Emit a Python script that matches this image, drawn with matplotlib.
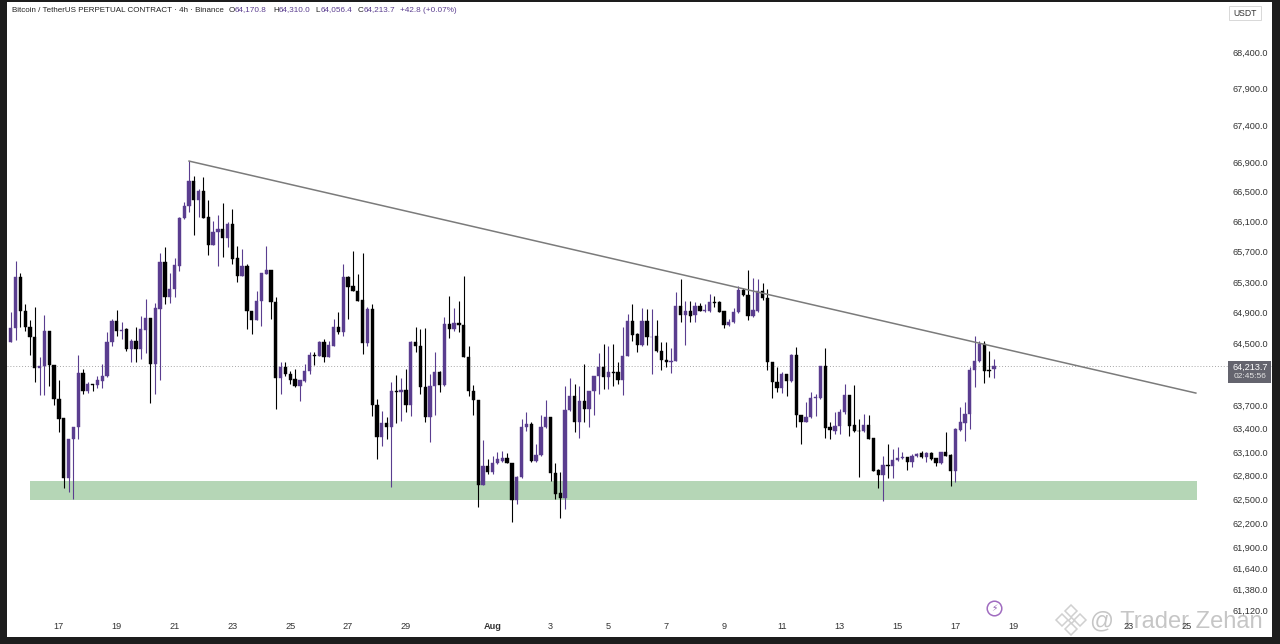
import numpy as np
import matplotlib
matplotlib.use("Agg")
import matplotlib.pyplot as plt
from matplotlib.patches import Rectangle

# 4h candles, one value per bar
opens = [64531, 64709, 65383, 64936, 64718, 64587, 64190, 64211, 64674, 64233,
         63789, 63541, 62785, 63273, 63426, 64125, 63897, 63983, 63974, 64026,
         64082, 64523, 64805, 64674, 64696, 64435, 64544, 64435, 64687, 64836,
         64241, 64957, 65572, 65110, 65220, 65528, 66161, 66316, 66652, 66405,
         66517, 66170, 65801, 65979, 66014, 65890, 66081, 65625, 65396, 65528,
         64936, 64818, 65066, 65418, 65471, 65044, 64056, 64198, 64112, 64047,
         63961, 64026, 64146, 64362, 64340, 64522, 64336, 64479, 64727, 64661,
         65383, 65255, 65198, 65075, 64513, 64957, 63716, 63298, 63478, 63427,
         63897, 63875, 63905, 63716, 64531, 64470, 63940, 63563, 63953, 64133,
         63974, 64762, 64692, 64775, 64749, 64336, 63897, 63776, 62692, 62938,
         62853, 62971, 63001, 63039, 62971, 62502, 62790, 63426, 63469, 63001,
         63073, 63426, 63554, 62840, 62587, 62528, 63652, 63832, 63490, 63768,
         63661, 63888, 64082, 64198, 64069, 64142, 64142, 64039, 64349, 64805,
         64631, 64487, 64796, 64587, 64600, 64405, 64297, 64263, 64280, 64992,
         64883, 64927, 64879, 65001, 64936, 64927, 65044, 65044, 64927, 64753,
         64783, 64914, 65211, 65145, 64862, 64936, 65189, 65097, 64263, 64013,
         63927, 64112, 64026, 64358, 63584, 63499, 63563, 63802, 63797, 64211,
         63426, 63384, 63447, 63618, 63841, 63460, 63384, 63384, 63460, 63285,
         62883, 62823, 62950, 62929, 63005, 63031, 63043, 62980, 63064, 63098,
         63043, 63094, 63031, 62971, 63115, 63073, 62866, 63396, 63481, 63597,
         64164, 64276, 64496, 64164, 64170.8]
highs = [64914, 65585, 65431, 65023, 64818, 64979, 64327, 64879, 64674, 64233,
         64039, 63541, 63273, 63434, 64357, 64177, 64004, 63983, 64090, 64241,
         64662, 64827, 64949, 64783, 64705, 64566, 64727, 64870, 65088, 64836,
         65036, 65695, 65779, 65431, 65625, 66170, 66378, 66930, 66728, 66549,
         66715, 66401, 66125, 66201, 66356, 66112, 66281, 65792, 65748, 65550,
         64936, 65198, 65427, 65784, 65471, 65110, 64271, 64263, 64155, 64177,
         64030, 64241, 64401, 64401, 64544, 64566, 64544, 64827, 64914, 65550,
         65396, 65726, 65418, 65695, 64979, 65023, 63789, 63640, 63555, 64004,
         64099, 64056, 64177, 64544, 64722, 64692, 64714, 64112, 64401, 64155,
         64849, 65132, 64966, 65066, 65391, 64470, 63974, 63776, 63268, 63022,
         63064, 63115, 63128, 63098, 62971, 62811, 63533, 63618, 63490, 63213,
         63584, 63780, 63554, 62971, 62853, 63961, 64056, 63983, 63961, 64241,
         63897, 64090, 64383, 64502, 64472, 64502, 64263, 64718, 64892, 65023,
         64644, 64966, 64957, 64957, 64814, 64522, 64522, 64444, 65185, 65352,
         65066, 65066, 65044, 65031, 65023, 65154, 65123, 65066, 64927, 64827,
         64966, 65255, 65229, 65475, 65361, 65352, 65299, 65220, 64263, 64198,
         64142, 64112, 64370, 64457, 63584, 63746, 63884, 63853, 64220, 64444,
         63490, 63627, 63661, 63983, 63841, 63970, 63533, 63597, 63588, 63285,
         62895, 63056, 63209, 63149, 63170, 63115, 63052, 63086, 63098, 63128,
         63115, 63115, 63031, 63115, 63370, 63086, 63418, 63691, 63755, 64198,
         64600, 64540, 64540, 64414, 64310]
lows = [64523, 64557, 64718, 64674, 64357, 64004, 63841, 63841, 63961, 63712,
        63362, 62650, 62608, 62515, 63277, 63854, 63867, 63897, 63927, 63927,
        64069, 64479, 64609, 64566, 64413, 64263, 64263, 64306, 64383, 63738,
        63854, 64039, 65023, 65036, 65110, 65462, 66148, 66245, 65934, 66170,
        66161, 65669, 65801, 65519, 65638, 65770, 65550, 65317, 65396, 64696,
        64631, 64818, 64731, 65418, 64827, 63661, 63854, 64090, 63983, 63940,
        63768, 64013, 64112, 64228, 64340, 64263, 64327, 64479, 64631, 64609,
        64827, 65189, 65066, 64370, 64479, 63576, 63022, 63183, 63277, 62663,
        63482, 63512, 63618, 63576, 64392, 63854, 63491, 63234, 63584, 63884,
        63961, 64579, 64675, 64653, 64336, 63832, 63588, 62410, 62692, 62832,
        62832, 62959, 62980, 62971, 62222, 62452, 62777, 63384, 62980, 62988,
        63064, 63413, 62747, 62515, 62272, 62389, 63640, 63362, 63290, 63490,
        63426, 63588, 63853, 63918, 63918, 63961, 63983, 63841, 64340, 64544,
        64392, 64479, 64487, 64112, 64392, 64164, 64198, 64125, 64280, 64783,
        64487, 64783, 64792, 64936, 64923, 64923, 64988, 64914, 64705, 64740,
        64775, 64905, 65132, 64818, 64849, 64923, 65079, 64168, 63797, 63875,
        63867, 63824, 64013, 63426, 63213, 63490, 63541, 63571, 63789, 63290,
        63277, 63341, 63341, 63597, 63319, 63370, 62790, 63370, 63277, 62866,
        62650, 62486, 62777, 62777, 62993, 63022, 62887, 62917, 63052, 63031,
        62980, 63014, 62929, 62959, 63056, 62675, 62726, 63384, 63255, 63405,
        63939, 64263, 63996, 64074, 64056.4]
closes = [64709, 65383, 64936, 64718, 64587, 64190, 64220, 64674, 64233, 63789,
          63533, 62785, 63273, 63434, 64125, 63897, 63983, 63974, 64034, 64082,
          64531, 64805, 64674, 64683, 64435, 64544, 64435, 64696, 64836, 64241,
          64970, 65572, 65110, 65220, 65537, 66161, 66325, 66652, 66405, 66517,
          66161, 65801, 65979, 66014, 65890, 66081, 65616, 65396, 65519, 64927,
          64818, 65066, 65427, 65471, 65044, 64056, 64198, 64112, 64039, 63953,
          64030, 64146, 64362, 64340, 64522, 64336, 64488, 64727, 64661, 65383,
          65251, 65189, 65066, 64513, 64957, 63716, 63298, 63478, 63427, 63897,
          63875, 63905, 63716, 64531, 64470, 63940, 63563, 63961, 64133, 63974,
          64762, 64692, 64775, 64749, 64336, 63897, 63776, 62692, 62938, 62853,
          62971, 63022, 63039, 62971, 62502, 62790, 63435, 63469, 63001, 63073,
          63435, 63554, 62840, 62578, 62528, 63652, 63832, 63490, 63768, 63661,
          63897, 64082, 64198, 64069, 64134, 64125, 64039, 64349, 64805, 64622,
          64487, 64796, 64587, 64596, 64405, 64297, 64263, 64280, 64992, 64879,
          64927, 64870, 65001, 64936, 64949, 65044, 65036, 64923, 64753, 64783,
          64923, 65211, 65145, 64862, 64944, 65189, 65097, 64263, 64004, 63927,
          64112, 64026, 64358, 63584, 63499, 63563, 63797, 63810, 64211, 63418,
          63392, 63447, 63627, 63841, 63447, 63375, 63375, 63460, 63277, 62874,
          62823, 62946, 62933, 63014, 63035, 63043, 62980, 63064, 63081, 63043,
          63094, 63022, 62967, 63107, 63064, 62866, 63405, 63490, 63597, 64168,
          64276, 64502, 64147, 64147, 64213.7]

price_ticks = [68400, 67900, 67400, 66900, 66500, 66100, 65700, 65300, 64900, 64500,
               63700, 63400, 63100, 62800, 62500, 62200, 61900, 61640, 61380, 61120]
day_ticks = [10, 22, 34, 46, 58, 70, 82, 100, 112, 124, 136, 148, 160, 172, 184, 196, 208, 232, 244]
day_labels = ["17", "19", "21", "23", "25", "27", "29", "Aug", "3", "5", "7", "9", "11", "13", "15", "17", "19", "23", "25"]

last_price = 64213.7
trend_x = [37, 245.9]
trend_y = [66925, 63866]
zone_x = [4, 246.1]
zone_y = [62502, 62743]

purple = "#5a3d8f"
black = "#000000"
grey = "#7b7b7b"

# figure pixel -> figure fraction, for the bits that sit outside the price scale
def px(x, y):
    return x / 1280, 1 - y / 644

fig = plt.figure(figsize=(12.8, 6.44), dpi=100, facecolor="#1d1d1d")
ax = fig.add_axes([7 / 1280, 7 / 644, 1265 / 1280, 635 / 644])
ax.set_yscale("log")
ax.set_xlim(-0.77, 261.7)
ax.set_ylim(60800, 69107)
for s in ax.spines.values():
    s.set_visible(False)

o = np.array(opens)
h = np.array(highs)
l = np.array(lows)
c = np.array(closes)
idx = np.arange(len(o))
colors = [purple if b >= a else black for a, b in zip(o, c)]

# support zone and trend line
ax.add_patch(Rectangle((zone_x[0], zone_y[0]), zone_x[1] - zone_x[0], zone_y[1] - zone_y[0],
                       facecolor="#b5d6b6", edgecolor="none", zorder=1))
ax.axhline(last_price, color="#a8a8a8", lw=0.7, ls=(0, (1, 2)), zorder=1)

ax.vlines(idx, l, h, colors=colors, lw=0.8, zorder=2)
ax.bar(idx, np.maximum(c, o) - np.minimum(c, o), bottom=np.minimum(c, o), width=0.68,
       color=colors, edgecolor=colors, lw=0.3, zorder=3)
ax.plot(trend_x, trend_y, color=grey, lw=1.1, zorder=4)

ax.yaxis.tick_right()
ax.set_yticks(price_ticks)
ax.set_yticklabels([f"{v:,.1f}" for v in price_ticks], fontsize=6.6, color="#333333", ha="right",
                   va="center", family="Liberation Sans")
ax.yaxis.set_minor_locator(matplotlib.ticker.NullLocator())
ax.tick_params(axis="y", length=0, pad=-3)
ax.set_xticks(day_ticks)
ax.set_xticklabels(day_labels, fontsize=6.6, color="#333333", family="Liberation Sans")
ax.tick_params(axis="x", length=0, pad=-10.5)
ax.get_xticklabels()[7].set_fontweight("bold")

# header line
fig.text(*px(12, 10), "Bitcoin / TetherUS PERPETUAL CONTRACT · 4h · Binance", fontsize=5.75, color="#222222",
         family="Liberation Sans", va="center")
header = [(229, "O", "64,170.8"), (273, "H", "64,310.0"), (315, "L", "64,056.4"), (358, "C", "64,213.7")]
for x0, letter, value in header:
    fig.text(*px(x0, 10), letter, fontsize=5.9, color="#222222", family="Liberation Sans", va="center")
    fig.text(*px(x0 + 5.5, 10), value, fontsize=5.9, color=purple, family="Liberation Sans", va="center")
fig.text(*px(400, 10), "+42.8 (+0.07%)", fontsize=5.9, color=purple, family="Liberation Sans", va="center")

# USDT box and last price label
fig.patches.append(Rectangle(px(1229, 20), 32 / 1280, 14 / 644, transform=fig.transFigure,
                             facecolor="white", edgecolor="#d8d8d8", lw=0.7))
fig.text(*px(1245, 13), "USDT", fontsize=6.2, color="#333333", family="Liberation Sans", ha="center", va="center")
fig.patches.append(Rectangle(px(1228, 383), 43 / 1280, 22 / 644, transform=fig.transFigure,
                             facecolor="#64646e", edgecolor="none"))
fig.text(*px(1250, 367), f"{last_price:,.1f}", fontsize=6.6, color="white", family="Liberation Sans",
         ha="center", va="center")
fig.text(*px(1250, 377), "02:45:56", fontsize=6, color="#e4e4e4", family="Liberation Sans",
         ha="center", va="center")

# lightning badge
badge_x, badge_y = px(994, 608)
fig.add_artist(plt.Line2D([badge_x], [badge_y], marker="o", ms=10.5, mfc="white", mec="#a06cc0", mew=1.1,
                          transform=fig.transFigure))
fig.text(badge_x, badge_y, "\u26a1", fontsize=6.5, color="#8e5bb0", ha="center", va="center", family="DejaVu Sans")

# watermark sits under the date labels
ax.text(*px(1090, 621), "@ Trader Zehan", fontsize=17, color="#c6c6c6", transform=fig.transFigure,
        family="Liberation Sans", va="center", zorder=1)
for mx, my, ms in [(1071, 611, 6), (1062, 620, 6), (1080, 620, 6), (1071, 629, 6), (1071, 620, 3)]:
    fx, fy = px(mx, my)
    ax.plot([fx], [fy], marker="D", ms=ms, mfc="none", mec="#d0d0d0", mew=1.1,
            transform=fig.transFigure, zorder=1, clip_on=False)

fig.savefig("out.png", dpi=100, facecolor=fig.get_facecolor())
